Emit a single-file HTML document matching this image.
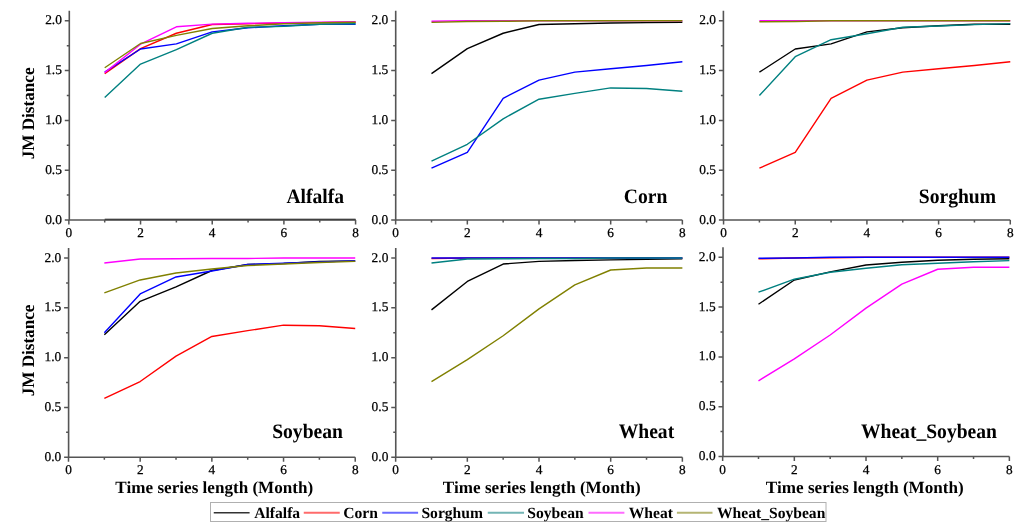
<!DOCTYPE html>
<html><head><meta charset="utf-8"><style>
html,body{margin:0;padding:0;background:#fff;width:1024px;height:532px;overflow:hidden}
svg{display:block}
</style></head><body>
<svg width="1024" height="532" viewBox="0 0 1024 532" style="font-kerning:none;text-rendering:geometricPrecision">
<rect width="1024" height="532" fill="#fff"/>
<polyline points="104.70,219.50 140.54,219.50 176.38,219.50 212.22,219.50 248.06,219.50 283.90,219.50 319.74,219.50 355.58,219.50" fill="none" stroke="#000000" stroke-width="1.4" stroke-linejoin="round"/>
<polyline points="104.70,73.59 140.54,48.69 176.38,33.25 212.22,24.49 248.06,23.79 283.90,22.99 319.74,22.59 355.58,22.19" fill="none" stroke="#ff0000" stroke-width="1.4" stroke-linejoin="round"/>
<polyline points="104.70,72.19 140.54,48.99 176.38,43.91 212.22,31.86 248.06,27.77 283.90,25.78 319.74,24.29 355.58,24.29" fill="none" stroke="#0000ff" stroke-width="1.4" stroke-linejoin="round"/>
<polyline points="104.70,97.49 140.54,64.03 176.38,49.68 212.22,33.25 248.06,27.27 283.90,26.28 319.74,24.29 355.58,23.79" fill="none" stroke="#008080" stroke-width="1.4" stroke-linejoin="round"/>
<polyline points="104.70,72.59 140.54,44.21 176.38,26.78 212.22,24.09 248.06,23.29 283.90,22.59 319.74,22.09 355.58,21.60" fill="none" stroke="#ff00ff" stroke-width="1.4" stroke-linejoin="round"/>
<polyline points="104.70,67.71 140.54,43.51 176.38,35.34 212.22,28.47 248.06,25.78 283.90,23.79 319.74,22.79 355.58,22.29" fill="none" stroke="#808000" stroke-width="1.4" stroke-linejoin="round"/>
<path d="M69.30,10.84 V220.00 H355.58" fill="none" stroke="#555" stroke-width="1.6"/>
<path d="M69.30,220.00 h-4.5 M68.86,220.00 v4.5 M69.30,195.10 h-2.5 M104.70,220.00 v2.5 M69.30,170.20 h-4.5 M140.54,220.00 v4.5 M69.30,145.30 h-2.5 M176.38,220.00 v2.5 M69.30,120.40 h-4.5 M212.22,220.00 v4.5 M69.30,95.50 h-2.5 M248.06,220.00 v2.5 M69.30,70.60 h-4.5 M283.90,220.00 v4.5 M69.30,45.70 h-2.5 M319.74,220.00 v2.5 M69.30,20.80 h-4.5 M355.58,220.00 v4.5" stroke="#555" stroke-width="1.5" fill="none"/>
<text x="45.16" y="223.50" font-size="13.4" font-family="'Liberation Serif',serif" fill="#000" stroke="#000" stroke-width="0.25">0.0</text>
<text x="45.17" y="173.70" font-size="13.4" font-family="'Liberation Serif',serif" fill="#000" stroke="#000" stroke-width="0.25">0.5</text>
<text x="45.16" y="123.90" font-size="13.4" font-family="'Liberation Serif',serif" fill="#000" stroke="#000" stroke-width="0.25">1.0</text>
<text x="45.17" y="74.10" font-size="13.4" font-family="'Liberation Serif',serif" fill="#000" stroke="#000" stroke-width="0.25">1.5</text>
<text x="45.16" y="24.30" font-size="13.4" font-family="'Liberation Serif',serif" fill="#000" stroke="#000" stroke-width="0.25">2.0</text>
<text transform="translate(65.54,237.00) scale(0.9990,1)" font-size="13.3" font-family="'Liberation Serif',serif" fill="#000" stroke="#000" stroke-width="0.25">0</text>
<text transform="translate(137.29,237.00) scale(0.9990,1)" font-size="13.3" font-family="'Liberation Serif',serif" fill="#000" stroke="#000" stroke-width="0.25">2</text>
<text transform="translate(208.87,237.00) scale(0.9990,1)" font-size="13.3" font-family="'Liberation Serif',serif" fill="#000" stroke="#000" stroke-width="0.25">4</text>
<text transform="translate(280.49,237.00) scale(0.9990,1)" font-size="13.3" font-family="'Liberation Serif',serif" fill="#000" stroke="#000" stroke-width="0.25">6</text>
<text transform="translate(352.26,237.00) scale(0.9990,1)" font-size="13.3" font-family="'Liberation Serif',serif" fill="#000" stroke="#000" stroke-width="0.25">8</text>
<text transform="translate(286.41,202.65) scale(0.9550,1)" font-size="20.5" font-weight="bold" font-family="'Liberation Serif',serif" fill="#000">Alfalfa</text>
<polyline points="431.49,73.59 467.33,48.69 503.17,33.25 539.01,24.49 574.85,23.79 610.69,22.99 646.53,22.59 682.37,22.19" fill="none" stroke="#000000" stroke-width="1.4" stroke-linejoin="round"/>
<polyline points="431.49,168.21 467.33,152.27 503.17,98.29 539.01,80.06 574.85,72.09 610.69,68.81 646.53,65.52 682.37,61.74" fill="none" stroke="#0000ff" stroke-width="1.4" stroke-linejoin="round"/>
<polyline points="431.49,161.24 467.33,144.30 503.17,118.81 539.01,99.19 574.85,93.41 610.69,87.93 646.53,88.53 682.37,91.22" fill="none" stroke="#008080" stroke-width="1.4" stroke-linejoin="round"/>
<polyline points="431.49,21.30 467.33,20.80 503.17,20.80 539.01,20.80 574.85,20.80 610.69,20.80 646.53,20.80 682.37,20.80" fill="none" stroke="#ff00ff" stroke-width="1.4" stroke-linejoin="round"/>
<polyline points="431.49,22.39 467.33,21.50 503.17,21.30 539.01,20.80 574.85,20.80 610.69,20.80 646.53,20.80 682.37,20.80" fill="none" stroke="#808000" stroke-width="1.4" stroke-linejoin="round"/>
<path d="M395.70,10.84 V220.00 H682.37" fill="none" stroke="#555" stroke-width="1.6"/>
<path d="M395.70,220.00 h-4.5 M395.65,220.00 v4.5 M395.70,195.10 h-2.5 M431.49,220.00 v2.5 M395.70,170.20 h-4.5 M467.33,220.00 v4.5 M395.70,145.30 h-2.5 M503.17,220.00 v2.5 M395.70,120.40 h-4.5 M539.01,220.00 v4.5 M395.70,95.50 h-2.5 M574.85,220.00 v2.5 M395.70,70.60 h-4.5 M610.69,220.00 v4.5 M395.70,45.70 h-2.5 M646.53,220.00 v2.5 M395.70,20.80 h-4.5 M682.37,220.00 v4.5" stroke="#555" stroke-width="1.5" fill="none"/>
<text x="371.56" y="223.50" font-size="13.4" font-family="'Liberation Serif',serif" fill="#000" stroke="#000" stroke-width="0.25">0.0</text>
<text x="371.57" y="173.70" font-size="13.4" font-family="'Liberation Serif',serif" fill="#000" stroke="#000" stroke-width="0.25">0.5</text>
<text x="371.56" y="123.90" font-size="13.4" font-family="'Liberation Serif',serif" fill="#000" stroke="#000" stroke-width="0.25">1.0</text>
<text x="371.57" y="74.10" font-size="13.4" font-family="'Liberation Serif',serif" fill="#000" stroke="#000" stroke-width="0.25">1.5</text>
<text x="371.56" y="24.30" font-size="13.4" font-family="'Liberation Serif',serif" fill="#000" stroke="#000" stroke-width="0.25">2.0</text>
<text transform="translate(392.33,237.00) scale(0.9990,1)" font-size="13.3" font-family="'Liberation Serif',serif" fill="#000" stroke="#000" stroke-width="0.25">0</text>
<text transform="translate(464.08,237.00) scale(0.9990,1)" font-size="13.3" font-family="'Liberation Serif',serif" fill="#000" stroke="#000" stroke-width="0.25">2</text>
<text transform="translate(535.66,237.00) scale(0.9990,1)" font-size="13.3" font-family="'Liberation Serif',serif" fill="#000" stroke="#000" stroke-width="0.25">4</text>
<text transform="translate(607.28,237.00) scale(0.9990,1)" font-size="13.3" font-family="'Liberation Serif',serif" fill="#000" stroke="#000" stroke-width="0.25">6</text>
<text transform="translate(679.05,237.00) scale(0.9990,1)" font-size="13.3" font-family="'Liberation Serif',serif" fill="#000" stroke="#000" stroke-width="0.25">8</text>
<text transform="translate(623.84,203.00) scale(0.9550,1)" font-size="20.5" font-weight="bold" font-family="'Liberation Serif',serif" fill="#000">Corn</text>
<polyline points="759.40,72.19 795.24,48.99 831.08,43.91 866.92,31.86 902.76,27.77 938.60,25.78 974.44,24.29 1010.28,24.29" fill="none" stroke="#000000" stroke-width="1.4" stroke-linejoin="round"/>
<polyline points="759.40,168.21 795.24,152.27 831.08,98.29 866.92,80.06 902.76,72.09 938.60,68.81 974.44,65.52 1010.28,61.74" fill="none" stroke="#ff0000" stroke-width="1.4" stroke-linejoin="round"/>
<polyline points="759.40,95.50 795.24,56.66 831.08,39.72 866.92,33.75 902.76,27.27 938.60,25.98 974.44,24.58 1010.28,23.59" fill="none" stroke="#008080" stroke-width="1.4" stroke-linejoin="round"/>
<polyline points="759.40,20.80 795.24,20.80 831.08,20.80 866.92,20.80 902.76,20.80 938.60,20.80 974.44,20.80 1010.28,20.80" fill="none" stroke="#ff00ff" stroke-width="1.4" stroke-linejoin="round"/>
<polyline points="759.40,21.80 795.24,21.50 831.08,20.80 866.92,20.80 902.76,20.80 938.60,20.80 974.44,20.80 1010.28,20.80" fill="none" stroke="#808000" stroke-width="1.4" stroke-linejoin="round"/>
<path d="M723.40,10.84 V220.00 H1010.28" fill="none" stroke="#555" stroke-width="1.6"/>
<path d="M723.40,220.00 h-4.5 M723.56,220.00 v4.5 M723.40,195.10 h-2.5 M759.40,220.00 v2.5 M723.40,170.20 h-4.5 M795.24,220.00 v4.5 M723.40,145.30 h-2.5 M831.08,220.00 v2.5 M723.40,120.40 h-4.5 M866.92,220.00 v4.5 M723.40,95.50 h-2.5 M902.76,220.00 v2.5 M723.40,70.60 h-4.5 M938.60,220.00 v4.5 M723.40,45.70 h-2.5 M974.44,220.00 v2.5 M723.40,20.80 h-4.5 M1010.28,220.00 v4.5" stroke="#555" stroke-width="1.5" fill="none"/>
<text x="699.26" y="223.50" font-size="13.4" font-family="'Liberation Serif',serif" fill="#000" stroke="#000" stroke-width="0.25">0.0</text>
<text x="699.27" y="173.70" font-size="13.4" font-family="'Liberation Serif',serif" fill="#000" stroke="#000" stroke-width="0.25">0.5</text>
<text x="699.26" y="123.90" font-size="13.4" font-family="'Liberation Serif',serif" fill="#000" stroke="#000" stroke-width="0.25">1.0</text>
<text x="699.27" y="74.10" font-size="13.4" font-family="'Liberation Serif',serif" fill="#000" stroke="#000" stroke-width="0.25">1.5</text>
<text x="699.26" y="24.30" font-size="13.4" font-family="'Liberation Serif',serif" fill="#000" stroke="#000" stroke-width="0.25">2.0</text>
<text transform="translate(720.24,237.00) scale(0.9990,1)" font-size="13.3" font-family="'Liberation Serif',serif" fill="#000" stroke="#000" stroke-width="0.25">0</text>
<text transform="translate(791.99,237.00) scale(0.9990,1)" font-size="13.3" font-family="'Liberation Serif',serif" fill="#000" stroke="#000" stroke-width="0.25">2</text>
<text transform="translate(863.57,237.00) scale(0.9990,1)" font-size="13.3" font-family="'Liberation Serif',serif" fill="#000" stroke="#000" stroke-width="0.25">4</text>
<text transform="translate(935.19,237.00) scale(0.9990,1)" font-size="13.3" font-family="'Liberation Serif',serif" fill="#000" stroke="#000" stroke-width="0.25">6</text>
<text transform="translate(1006.96,237.00) scale(0.9990,1)" font-size="13.3" font-family="'Liberation Serif',serif" fill="#000" stroke="#000" stroke-width="0.25">8</text>
<text transform="translate(918.76,203.20) scale(0.9550,1)" font-size="20.5" font-weight="bold" font-family="'Liberation Serif',serif" fill="#000">Sorghum</text>
<polyline points="104.34,334.74 140.18,301.28 176.02,286.93 211.86,270.50 247.70,264.52 283.54,263.53 319.38,261.54 355.22,261.04" fill="none" stroke="#000000" stroke-width="1.4" stroke-linejoin="round"/>
<polyline points="104.34,398.49 140.18,381.55 176.02,356.06 211.86,336.44 247.70,330.66 283.54,325.18 319.38,325.78 355.22,328.47" fill="none" stroke="#ff0000" stroke-width="1.4" stroke-linejoin="round"/>
<polyline points="104.34,332.75 140.18,293.91 176.02,276.97 211.86,271.00 247.70,264.52 283.54,263.23 319.38,261.83 355.22,260.84" fill="none" stroke="#0000ff" stroke-width="1.4" stroke-linejoin="round"/>
<polyline points="104.34,263.03 140.18,259.05 176.02,258.75 211.86,258.55 247.70,258.45 283.54,258.05 319.38,258.05 355.22,258.05" fill="none" stroke="#ff00ff" stroke-width="1.4" stroke-linejoin="round"/>
<polyline points="104.34,292.91 140.18,279.96 176.02,272.99 211.86,269.01 247.70,265.52 283.54,264.03 319.38,262.53 355.22,261.34" fill="none" stroke="#808000" stroke-width="1.4" stroke-linejoin="round"/>
<path d="M68.60,248.09 V457.25 H355.22" fill="none" stroke="#555" stroke-width="1.6"/>
<path d="M68.60,457.25 h-4.5 M68.50,457.25 v4.5 M68.60,432.35 h-2.5 M104.34,457.25 v2.5 M68.60,407.45 h-4.5 M140.18,457.25 v4.5 M68.60,382.55 h-2.5 M176.02,457.25 v2.5 M68.60,357.65 h-4.5 M211.86,457.25 v4.5 M68.60,332.75 h-2.5 M247.70,457.25 v2.5 M68.60,307.85 h-4.5 M283.54,457.25 v4.5 M68.60,282.95 h-2.5 M319.38,457.25 v2.5 M68.60,258.05 h-4.5 M355.22,457.25 v4.5" stroke="#555" stroke-width="1.5" fill="none"/>
<text x="44.46" y="460.75" font-size="13.4" font-family="'Liberation Serif',serif" fill="#000" stroke="#000" stroke-width="0.25">0.0</text>
<text x="44.47" y="410.95" font-size="13.4" font-family="'Liberation Serif',serif" fill="#000" stroke="#000" stroke-width="0.25">0.5</text>
<text x="44.46" y="361.15" font-size="13.4" font-family="'Liberation Serif',serif" fill="#000" stroke="#000" stroke-width="0.25">1.0</text>
<text x="44.47" y="311.35" font-size="13.4" font-family="'Liberation Serif',serif" fill="#000" stroke="#000" stroke-width="0.25">1.5</text>
<text x="44.46" y="261.55" font-size="13.4" font-family="'Liberation Serif',serif" fill="#000" stroke="#000" stroke-width="0.25">2.0</text>
<text transform="translate(65.18,474.25) scale(0.9990,1)" font-size="13.3" font-family="'Liberation Serif',serif" fill="#000" stroke="#000" stroke-width="0.25">0</text>
<text transform="translate(136.93,474.25) scale(0.9990,1)" font-size="13.3" font-family="'Liberation Serif',serif" fill="#000" stroke="#000" stroke-width="0.25">2</text>
<text transform="translate(208.51,474.25) scale(0.9990,1)" font-size="13.3" font-family="'Liberation Serif',serif" fill="#000" stroke="#000" stroke-width="0.25">4</text>
<text transform="translate(280.13,474.25) scale(0.9990,1)" font-size="13.3" font-family="'Liberation Serif',serif" fill="#000" stroke="#000" stroke-width="0.25">6</text>
<text transform="translate(351.90,474.25) scale(0.9990,1)" font-size="13.3" font-family="'Liberation Serif',serif" fill="#000" stroke="#000" stroke-width="0.25">8</text>
<text transform="translate(272.16,438.20) scale(0.9550,1)" font-size="20.5" font-weight="bold" font-family="'Liberation Serif',serif" fill="#000">Soybean</text>
<polyline points="431.49,309.84 467.33,281.46 503.17,264.03 539.01,261.34 574.85,260.54 610.69,259.84 646.53,259.34 682.37,258.85" fill="none" stroke="#000000" stroke-width="1.4" stroke-linejoin="round"/>
<polyline points="431.49,258.55 467.33,258.05 503.17,258.05 539.01,258.05 574.85,258.05 610.69,258.05 646.53,258.05 682.37,258.05" fill="none" stroke="#ff0000" stroke-width="1.4" stroke-linejoin="round"/>
<polyline points="431.49,258.05 467.33,258.05 503.17,258.05 539.01,258.05 574.85,258.05 610.69,258.05 646.53,258.05 682.37,258.05" fill="none" stroke="#0000ff" stroke-width="1.4" stroke-linejoin="round"/>
<polyline points="431.49,263.03 467.33,259.05 503.17,258.75 539.01,258.55 574.85,258.45 610.69,258.05 646.53,258.05 682.37,258.05" fill="none" stroke="#008080" stroke-width="1.4" stroke-linejoin="round"/>
<polyline points="431.49,381.55 467.33,359.64 503.17,335.74 539.01,308.85 574.85,284.94 610.69,270.00 646.53,268.01 682.37,268.01" fill="none" stroke="#808000" stroke-width="1.4" stroke-linejoin="round"/>
<path d="M395.75,248.09 V457.25 H682.37" fill="none" stroke="#555" stroke-width="1.6"/>
<path d="M395.75,457.25 h-4.5 M395.65,457.25 v4.5 M395.75,432.35 h-2.5 M431.49,457.25 v2.5 M395.75,407.45 h-4.5 M467.33,457.25 v4.5 M395.75,382.55 h-2.5 M503.17,457.25 v2.5 M395.75,357.65 h-4.5 M539.01,457.25 v4.5 M395.75,332.75 h-2.5 M574.85,457.25 v2.5 M395.75,307.85 h-4.5 M610.69,457.25 v4.5 M395.75,282.95 h-2.5 M646.53,457.25 v2.5 M395.75,258.05 h-4.5 M682.37,457.25 v4.5" stroke="#555" stroke-width="1.5" fill="none"/>
<text x="371.61" y="460.75" font-size="13.4" font-family="'Liberation Serif',serif" fill="#000" stroke="#000" stroke-width="0.25">0.0</text>
<text x="371.62" y="410.95" font-size="13.4" font-family="'Liberation Serif',serif" fill="#000" stroke="#000" stroke-width="0.25">0.5</text>
<text x="371.61" y="361.15" font-size="13.4" font-family="'Liberation Serif',serif" fill="#000" stroke="#000" stroke-width="0.25">1.0</text>
<text x="371.62" y="311.35" font-size="13.4" font-family="'Liberation Serif',serif" fill="#000" stroke="#000" stroke-width="0.25">1.5</text>
<text x="371.61" y="261.55" font-size="13.4" font-family="'Liberation Serif',serif" fill="#000" stroke="#000" stroke-width="0.25">2.0</text>
<text transform="translate(392.33,474.25) scale(0.9990,1)" font-size="13.3" font-family="'Liberation Serif',serif" fill="#000" stroke="#000" stroke-width="0.25">0</text>
<text transform="translate(464.08,474.25) scale(0.9990,1)" font-size="13.3" font-family="'Liberation Serif',serif" fill="#000" stroke="#000" stroke-width="0.25">2</text>
<text transform="translate(535.66,474.25) scale(0.9990,1)" font-size="13.3" font-family="'Liberation Serif',serif" fill="#000" stroke="#000" stroke-width="0.25">4</text>
<text transform="translate(607.28,474.25) scale(0.9990,1)" font-size="13.3" font-family="'Liberation Serif',serif" fill="#000" stroke="#000" stroke-width="0.25">6</text>
<text transform="translate(679.05,474.25) scale(0.9990,1)" font-size="13.3" font-family="'Liberation Serif',serif" fill="#000" stroke="#000" stroke-width="0.25">8</text>
<text transform="translate(618.72,438.20) scale(0.9550,1)" font-size="20.5" font-weight="bold" font-family="'Liberation Serif',serif" fill="#000">Wheat</text>
<polyline points="758.49,304.21 794.33,280.01 830.17,271.84 866.01,264.97 901.85,262.28 937.69,260.29 973.53,259.29 1009.37,258.79" fill="none" stroke="#000000" stroke-width="1.4" stroke-linejoin="round"/>
<polyline points="758.49,258.89 794.33,258.00 830.17,257.80 866.01,257.30 901.85,257.30 937.69,257.30 973.53,257.30 1009.37,257.30" fill="none" stroke="#ff0000" stroke-width="1.4" stroke-linejoin="round"/>
<polyline points="758.49,258.30 794.33,258.00 830.17,257.30 866.01,257.30 901.85,257.30 937.69,257.30 973.53,257.30 1009.37,257.30" fill="none" stroke="#0000ff" stroke-width="1.4" stroke-linejoin="round"/>
<polyline points="758.49,292.16 794.33,279.21 830.17,272.24 866.01,268.26 901.85,264.77 937.69,263.28 973.53,261.78 1009.37,260.59" fill="none" stroke="#008080" stroke-width="1.4" stroke-linejoin="round"/>
<polyline points="758.49,380.80 794.33,358.89 830.17,334.99 866.01,308.10 901.85,284.19 937.69,269.25 973.53,267.26 1009.37,267.26" fill="none" stroke="#ff00ff" stroke-width="1.4" stroke-linejoin="round"/>
<path d="M723.00,247.34 V456.50 H1009.37" fill="none" stroke="#555" stroke-width="1.6"/>
<path d="M723.00,456.50 h-4.5 M722.65,456.50 v4.5 M723.00,431.60 h-2.5 M758.49,456.50 v2.5 M723.00,406.70 h-4.5 M794.33,456.50 v4.5 M723.00,381.80 h-2.5 M830.17,456.50 v2.5 M723.00,356.90 h-4.5 M866.01,456.50 v4.5 M723.00,332.00 h-2.5 M901.85,456.50 v2.5 M723.00,307.10 h-4.5 M937.69,456.50 v4.5 M723.00,282.20 h-2.5 M973.53,456.50 v2.5 M723.00,257.30 h-4.5 M1009.37,456.50 v4.5" stroke="#555" stroke-width="1.5" fill="none"/>
<text x="698.86" y="460.00" font-size="13.4" font-family="'Liberation Serif',serif" fill="#000" stroke="#000" stroke-width="0.25">0.0</text>
<text x="698.87" y="410.20" font-size="13.4" font-family="'Liberation Serif',serif" fill="#000" stroke="#000" stroke-width="0.25">0.5</text>
<text x="698.86" y="360.40" font-size="13.4" font-family="'Liberation Serif',serif" fill="#000" stroke="#000" stroke-width="0.25">1.0</text>
<text x="698.87" y="310.60" font-size="13.4" font-family="'Liberation Serif',serif" fill="#000" stroke="#000" stroke-width="0.25">1.5</text>
<text x="698.86" y="260.80" font-size="13.4" font-family="'Liberation Serif',serif" fill="#000" stroke="#000" stroke-width="0.25">2.0</text>
<text transform="translate(719.33,473.50) scale(0.9990,1)" font-size="13.3" font-family="'Liberation Serif',serif" fill="#000" stroke="#000" stroke-width="0.25">0</text>
<text transform="translate(791.08,473.50) scale(0.9990,1)" font-size="13.3" font-family="'Liberation Serif',serif" fill="#000" stroke="#000" stroke-width="0.25">2</text>
<text transform="translate(862.66,473.50) scale(0.9990,1)" font-size="13.3" font-family="'Liberation Serif',serif" fill="#000" stroke="#000" stroke-width="0.25">4</text>
<text transform="translate(934.28,473.50) scale(0.9990,1)" font-size="13.3" font-family="'Liberation Serif',serif" fill="#000" stroke="#000" stroke-width="0.25">6</text>
<text transform="translate(1006.05,473.50) scale(0.9990,1)" font-size="13.3" font-family="'Liberation Serif',serif" fill="#000" stroke="#000" stroke-width="0.25">8</text>
<text transform="translate(860.97,438.10) scale(0.9550,1)" font-size="20.5" font-weight="bold" font-family="'Liberation Serif',serif" fill="#000">Wheat_Soybean</text>
<text transform="translate(34.0,159.26) rotate(-90) scale(0.978,1)" font-size="17.5" font-weight="bold" font-family="'Liberation Serif',serif">JM Distance</text>
<text transform="translate(34.0,396.36) rotate(-90) scale(0.978,1)" font-size="17.5" font-weight="bold" font-family="'Liberation Serif',serif">JM Distance</text>
<text x="115.23" y="492.75" font-size="17.1" font-weight="bold" font-family="'Liberation Serif',serif" fill="#000">Time series length (Month)</text>
<text x="442.73" y="492.75" font-size="17.1" font-weight="bold" font-family="'Liberation Serif',serif" fill="#000">Time series length (Month)</text>
<text x="765.73" y="492.75" font-size="17.1" font-weight="bold" font-family="'Liberation Serif',serif" fill="#000">Time series length (Month)</text>
<rect x="210.5" y="502.5" width="615.5" height="19" fill="#fff" stroke="#b0b0b0" stroke-width="1"/>
<line x1="213.75" y1="512.75" x2="249.6" y2="512.75" stroke="#333333" stroke-width="1.5"/>
<text x="254.25" y="518.00" font-size="15.6" font-weight="bold" font-family="'Liberation Serif',serif" fill="#000">Alfalfa</text>
<line x1="303.75" y1="512.75" x2="339.75" y2="512.75" stroke="#ff6b6b" stroke-width="2"/>
<text x="343.24" y="518.00" font-size="15.6" font-weight="bold" font-family="'Liberation Serif',serif" fill="#000">Corn</text>
<line x1="382.25" y1="512.75" x2="418.1" y2="512.75" stroke="#6b6bff" stroke-width="2"/>
<text x="421.42" y="518.00" font-size="15.6" font-weight="bold" font-family="'Liberation Serif',serif" fill="#000">Sorghum</text>
<line x1="487.75" y1="512.75" x2="524" y2="512.75" stroke="#73b5b5" stroke-width="2"/>
<text x="527.27" y="518.00" font-size="15.6" font-weight="bold" font-family="'Liberation Serif',serif" fill="#000">Soybean</text>
<line x1="588.5" y1="512.75" x2="624.4" y2="512.75" stroke="#ff6bff" stroke-width="2"/>
<text x="628.78" y="518.00" font-size="15.6" font-weight="bold" font-family="'Liberation Serif',serif" fill="#000">Wheat</text>
<line x1="676.9" y1="512.75" x2="712.5" y2="512.75" stroke="#b5b573" stroke-width="2"/>
<text x="717.03" y="518.00" font-size="15.6" font-weight="bold" font-family="'Liberation Serif',serif" fill="#000">Wheat_Soybean</text>
</svg>
</body></html>
